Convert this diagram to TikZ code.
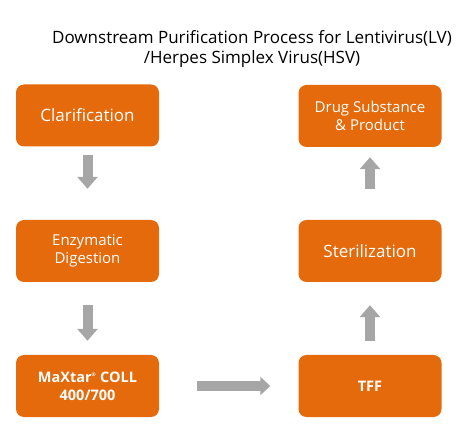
\documentclass[tikz,border=0pt]{standalone}
\usepackage{fontspec}
\setmainfont{Open Sans}
\usetikzlibrary{arrows.meta}
\definecolor{boxorange}{RGB}{228,106,12}
\definecolor{arrowgray}{RGB}{166,166,166}
\tikzset{
  procbox/.style={fill=boxorange, draw=none, rounded corners=8pt, minimum width=143pt, minimum height=62pt, text=white, align=center, inner sep=0pt},
  flowarrow/.style={draw=arrowgray, line width=10pt, -{Triangle[width=20pt,length=12pt]}},
}
\begin{document}
\begin{tikzpicture}[x=1pt,y=-1pt]
\useasboundingbox (0,0) rectangle (474,438);
\node[align=center, font=\fontsize{17}{19.5}\selectfont] (title) at (252,49) {Downstream Purification Process for Lentivirus(LV)\\/Herpes Simplex Virus(HSV)};
\node[procbox, font=\fontsize{17}{19}\selectfont] (clar) at (87.5,115.5) {Clarification};
\node[procbox, font=\fontsize{15}{18}\selectfont] (enz) at (87.5,251) {Enzymatic\\Digestion};
\node[procbox, font=\bfseries\fontsize{14.5}{18}\selectfont] (max) at (87.5,386) {MaXtar\textsuperscript{\tiny\textregistered} COLL\\400/700};
\node[procbox, font=\bfseries\fontsize{14.5}{18}\selectfont] (tff) at (370,386) {TFF};
\node[procbox, font=\fontsize{17}{19}\selectfont] (ster) at (370,251) {Sterilization};
\node[procbox, font=\fontsize{15}{18}\selectfont] (drug) at (370,116) {Drug Substance\\\& Product};
\draw[flowarrow, shorten <=8pt, shorten >=31pt] (clar.south) -- (enz.north);
\draw[flowarrow, shorten <=23pt, shorten >=14pt] (enz.south) -- (max.north);
\draw[flowarrow, -{Triangle[width=18pt,length=10pt]}, shorten <=38pt, shorten >=28pt] (max.east) -- (tff.west);
\draw[flowarrow, shorten <=14pt, shorten >=23pt] (tff.north) -- (ster.south);
\draw[flowarrow, shorten <=31pt, shorten >=10pt] (ster.north) -- (drug.south);
\end{tikzpicture}
\end{document}
